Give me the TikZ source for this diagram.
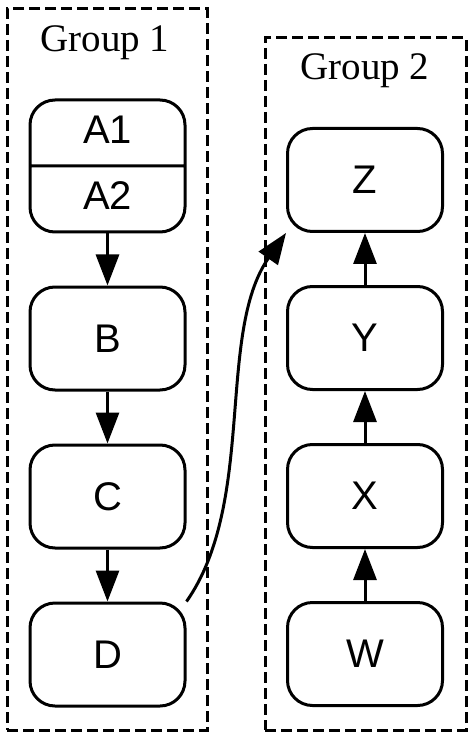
\documentclass[tikz,border=0pt]{standalone}
\usepackage{fontspec}
\setmainfont{Liberation Serif}
\setsansfont{Liberation Sans}
\usetikzlibrary{shapes.multipart, arrows.meta, positioning}
\newcommand{\partstrut}{\rule[-10.5pt]{0pt}{31.5pt}}
\tikzstyle{box} = [rectangle, rounded corners=12.5pt, minimum width=77.5pt, minimum height=51.5pt, text centered, draw=black, line width=1.5pt, font=\sffamily\fontsize{20}{24}\selectfont]
\tikzstyle{splitbox} = [box, rectangle split, rectangle split parts=2, inner ysep=0pt]
\tikzstyle{group} = [rectangle, draw=black, line width=1.5pt, dash pattern=on 5.5pt off 2.5pt]
\tikzstyle{title} = [font=\fontsize{19.5}{23}\selectfont]
\tikzstyle{arrow} = [line width=1.5pt, ->, >={Triangle[length=15.5pt,width=11.5pt]}]

\begin{document}
\begin{tikzpicture}[node distance=26pt]
        \useasboundingbox (0,0) rectangle (237pt,-368.5pt);
        \node (group1) [group, minimum width=100pt, minimum height=360.5pt] at (53.5pt,-184.75pt) {};
        \node (group2) [group, minimum width=100.5pt, minimum height=346pt] at (182.75pt,-192pt) {};
        \node (title1) [title, anchor=base] at (52.5pt,-26pt) {Group 1};
        \node (title2) [title, anchor=base] at (182.5pt,-40pt) {Group 2};

        \node (a) [splitbox] at (53.75pt,-83pt) {\partstrut A1\nodepart{two}\partstrut A2};
        \node (b) [box, below=of a] {B};
        \node (c) [box, below=of b] {C};
        \node (d) [box, below=of c] {D};

        \node (z) [box] at (182.5pt,-90pt) {Z};
        \node (y) [box, below=of z] {Y};
        \node (x) [box, below=of y] {X};
        \node (w) [box, below=of x] {W};

        \draw [arrow] (a) -- (b);
        \draw [arrow] (b) -- (c);
        \draw [arrow] (c) -- (d);
        \draw [arrow] (w) -- (x);
        \draw [arrow] (x) -- (y);
        \draw [arrow] (y) -- (z);
        \draw [arrow] (d.north east) .. controls +(35pt,50pt) and +(-35pt,-50pt) .. (z.south west);
\end{tikzpicture}
\end{document}
